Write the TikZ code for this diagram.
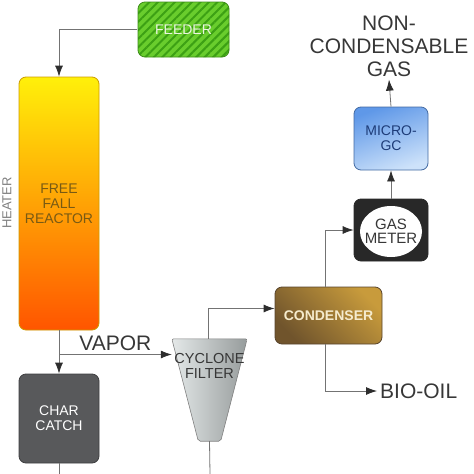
\documentclass[tikz,border=0pt]{standalone}
\usepackage{fontspec}
\setmainfont{Liberation Sans}
\usetikzlibrary{arrows.meta}
\usetikzlibrary{patterns.meta}

\definecolor{linegray}{RGB}{115,115,115}
\definecolor{tipgray}{RGB}{45,45,45}
\definecolor{labelgray}{RGB}{55,55,55}
\definecolor{feedgreen}{RGB}{105,205,45}
\definecolor{feedstripe}{RGB}{60,160,20}
\definecolor{feedborder}{RGB}{60,140,25}
\definecolor{reactortop}{RGB}{255,240,10}
\definecolor{reactormid}{RGB}{255,195,0}
\definecolor{reactorbot}{RGB}{255,85,0}
\definecolor{reactortext}{RGB}{120,90,20}
\definecolor{chargray}{RGB}{88,89,91}
\definecolor{cyclonelight}{RGB}{228,232,232}
\definecolor{cyclonedark}{RGB}{150,156,156}
\definecolor{condlight}{RGB}{200,155,60}
\definecolor{condgold}{RGB}{182,132,42}
\definecolor{conddark}{RGB}{88,68,45}
\definecolor{condtext}{RGB}{245,235,205}
\definecolor{meterblack}{RGB}{40,40,40}
\definecolor{gcblue}{RGB}{95,152,232}
\definecolor{gclight}{RGB}{205,226,250}
\definecolor{gctext}{RGB}{30,60,120}

\begin{document}
\begin{tikzpicture}[x=1pt, y=-1pt,
    unit/.style={rounded corners=7pt, line width=0.8pt, align=center, inner sep=0pt,
        font=\fontsize{14}{15}\selectfont},
    flow/.style={draw=linegray, line width=0.8pt},
    arr/.style={flow, -{Latex[length=11pt, width=8pt, color=tipgray]}},
    big/.style={font=\fontsize{21}{23}\selectfont, text=labelgray, align=center, inner sep=3pt}]

    \useasboundingbox (0,0) rectangle (474,474);

    % units
    \node[unit, draw=feedborder, preaction={fill=feedgreen},
        pattern={Lines[angle=45, distance=6pt, line width=2pt]}, pattern color=feedstripe,
        minimum width=91, minimum height=55, text={rgb,255:red,235;green,245;blue,225}] (feeder) at (183.5,29.5) {FEEDER};
    \node[unit, draw=reactormid!80!black, top color=reactortop, middle color=reactormid, bottom color=reactorbot,
        minimum width=80, minimum height=253, text=reactortext] (reactor) at (59,203.5) {FREE\\FALL\\REACTOR};
    \node[rotate=90, font=\fontsize{13}{15}\selectfont, text=gray] (heater) at (7,203) {HEATER};
    \node[unit, draw=chargray!70!black, fill=chargray,
        minimum width=80, minimum height=89, text=white] (charcatch) at (59,418.5) {CHAR\\CATCH};
    \node[minimum width=75, minimum height=102, inner sep=0pt] (cyclone) at (209.5,390) {};
    \shade[draw=gray, line width=0.6pt, left color=cyclonelight, right color=cyclonedark, rounded corners=2pt]
        (cyclone.north west) -- (cyclone.north east) -- ([xshift=-26.5pt]cyclone.south east)
        -- ([xshift=26.5pt]cyclone.south west) -- cycle;
    \node[align=center, font=\fontsize{14.5}{14.5}\selectfont, text=labelgray] (cyclonelabel) at (209.5,366) {CYCLONE\\FILTER};
    \node[unit, draw=conddark, top color=condlight, middle color=condgold, bottom color=conddark!75!condgold, shading angle=-45,
        minimum width=107, minimum height=57, text=condtext, font=\fontsize{14}{15}\selectfont\bfseries] (condenser) at (328.5,315.5) {CONDENSER};
    \node[unit, draw=meterblack, fill=meterblack,
        minimum width=74, minimum height=62] (gasmeter) at (391,230) {};
    \fill[white] ([yshift=-1.5pt]gasmeter.center) ellipse [x radius=31pt, y radius=25.5pt];
    \node[align=center, inner sep=0pt, font=\fontsize{15}{14.5}\selectfont, text=labelgray] (gasdial) at (391,231.5) {GAS\\METER};
    \node[unit, draw=gcblue!70!black, top color=gcblue, bottom color=gclight, shading angle=20,
        minimum width=74, minimum height=63, text=gctext] (microgc) at (391,138.5) {MICRO-\\GC};

    % outputs
    \node[big] (gas) at (389,46) {NON-\\CONDENSABLE\\GAS};
    \node[big, anchor=west] (biooil) at (377,391) {BIO-OIL};
    \coordinate (split) at (59,354.5);
    \coordinate (charout) at (59,474);
    \coordinate (cycout) at (210,474);

    % flows
    \draw[arr] (feeder.west) -| (reactor.north);
    \draw[arr] (reactor.south) -- (charcatch.north);
    \draw[arr] (split) -- (split -| cyclone.west)
        node[big, midway, above=0pt] (vapor) {VAPOR};
    \draw[flow] (cyclone.south) -- (cycout);
    \draw[flow] (charcatch.south) -- (charout);
    \draw[arr] ([xshift=-1.5pt]cyclone.north) |- ([yshift=7pt]condenser.west);
    \draw[arr] ([xshift=-3pt]condenser.north) |- (gasmeter.west);
    \draw[arr] ([xshift=-3pt]condenser.south) |- (biooil.west);
    \draw[arr] (gasmeter.north) -- (microgc.south);
    \draw[arr] (microgc.north) -- (gas.south);

\end{tikzpicture}
\end{document}
